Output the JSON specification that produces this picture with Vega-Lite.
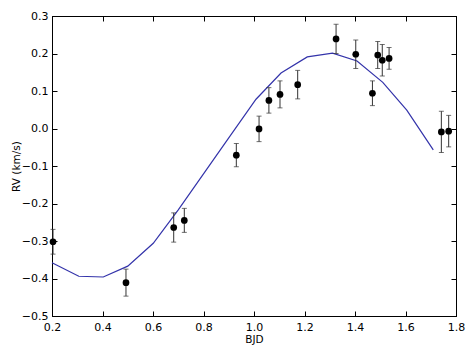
{
  "$schema": "https://vega.github.io/schema/vega-lite/v6.json",
  "width": 404,
  "height": 300,
  "autosize": "none",
  "padding": {"left": 52, "top": 16, "right": 18, "bottom": 39},
  "background": "white",
  "config": {
    "view": {"stroke": "black", "strokeWidth": 1},
    "axis": {
      "labelFont": "DejaVu Sans",
      "titleFont": "DejaVu Sans",
      "labelFontSize": 11,
      "titleFontSize": 10.5,
      "titleFontWeight": "normal",
      "labelColor": "#000",
      "titleColor": "#000",
      "grid": false,
      "domainColor": "#000",
      "tickColor": "#000",
      "tickSize": -5,
      "labelPadding": 8,
      "labelFlush": false,
      "labelOverlap": false
    }
  },
  "datasets": {
    "obs": [
      {"bjd": 0.204, "rv": -0.302, "err": 0.033},
      {"bjd": 0.493, "rv": -0.411, "err": 0.036},
      {"bjd": 0.682, "rv": -0.264, "err": 0.039},
      {"bjd": 0.724, "rv": -0.245, "err": 0.032},
      {"bjd": 0.930, "rv": -0.071, "err": 0.031},
      {"bjd": 1.020, "rv": -0.001, "err": 0.034},
      {"bjd": 1.059, "rv": 0.075, "err": 0.034},
      {"bjd": 1.103, "rv": 0.091, "err": 0.036},
      {"bjd": 1.173, "rv": 0.117, "err": 0.038},
      {"bjd": 1.325, "rv": 0.239, "err": 0.039},
      {"bjd": 1.403, "rv": 0.198, "err": 0.038},
      {"bjd": 1.469, "rv": 0.094, "err": 0.033},
      {"bjd": 1.490, "rv": 0.196, "err": 0.036},
      {"bjd": 1.508, "rv": 0.182, "err": 0.042},
      {"bjd": 1.535, "rv": 0.187, "err": 0.029},
      {"bjd": 1.742, "rv": -0.009, "err": 0.055},
      {"bjd": 1.771, "rv": -0.007, "err": 0.042}
    ],
    "model": [
      {"bjd": 0.200, "rv": -0.358},
      {"bjd": 0.306, "rv": -0.394},
      {"bjd": 0.403, "rv": -0.396},
      {"bjd": 0.500, "rv": -0.367},
      {"bjd": 0.601, "rv": -0.306},
      {"bjd": 0.700, "rv": -0.217},
      {"bjd": 0.800, "rv": -0.121},
      {"bjd": 0.900, "rv": -0.025},
      {"bjd": 1.008, "rv": 0.078},
      {"bjd": 1.107, "rv": 0.148},
      {"bjd": 1.211, "rv": 0.191},
      {"bjd": 1.311, "rv": 0.201},
      {"bjd": 1.408, "rv": 0.180},
      {"bjd": 1.510, "rv": 0.123},
      {"bjd": 1.605, "rv": 0.049},
      {"bjd": 1.710, "rv": -0.057}
    ]
  },
  "layer": [
    {
      "data": {"name": "model"},
      "mark": {"type": "line", "color": "#3333aa", "strokeWidth": 1.2},
      "encoding": {
        "x": {"field": "bjd", "type": "quantitative", "scale": {"domain": [0.2, 1.8], "nice": false, "zero": false},
              "axis": {"orient": "bottom", "title": "BJD", "format": ".1f", "values": [0.2,0.4,0.6,0.8,1.0,1.2,1.4,1.6,1.8], "titlePadding": 2, "labelPadding": 10}},
        "y": {"field": "rv", "type": "quantitative", "scale": {"domain": [-0.5, 0.3], "nice": false, "zero": false},
              "axis": {"orient": "left", "title": "RV (km/s)", "format": ".1f", "values": [-0.5,-0.4,-0.3,-0.2,-0.1,0.0,0.1,0.2,0.3], "titlePadding": 0, "labelPadding": 9}}
      }
    },
    {
      "data": {"name": "obs"},
      "mark": {"type": "errorbar", "ticks": {"size": 5, "color": "#333"}, "rule": {"color": "#333"}, "color": "#333"},
      "encoding": {
        "x": {"field": "bjd", "type": "quantitative",
              "axis": {"orient": "top", "title": null, "labels": false, "values": [0.2,0.4,0.6,0.8,1.0,1.2,1.4,1.6,1.8]}},
        "y": {"field": "rv", "type": "quantitative",
              "axis": {"orient": "right", "title": null, "labels": false, "values": [-0.5,-0.4,-0.3,-0.2,-0.1,0.0,0.1,0.2,0.3]}},
        "yError": {"field": "err"}
      }
    },
    {
      "data": {"name": "obs"},
      "mark": {"type": "point", "filled": true, "color": "#000", "size": 45, "opacity": 1},
      "encoding": {
        "x": {"field": "bjd", "type": "quantitative", "axis": null},
        "y": {"field": "rv", "type": "quantitative", "axis": null}
      }
    }
  ],
  "resolve": {"axis": {"x": "independent", "y": "independent"}}
}
